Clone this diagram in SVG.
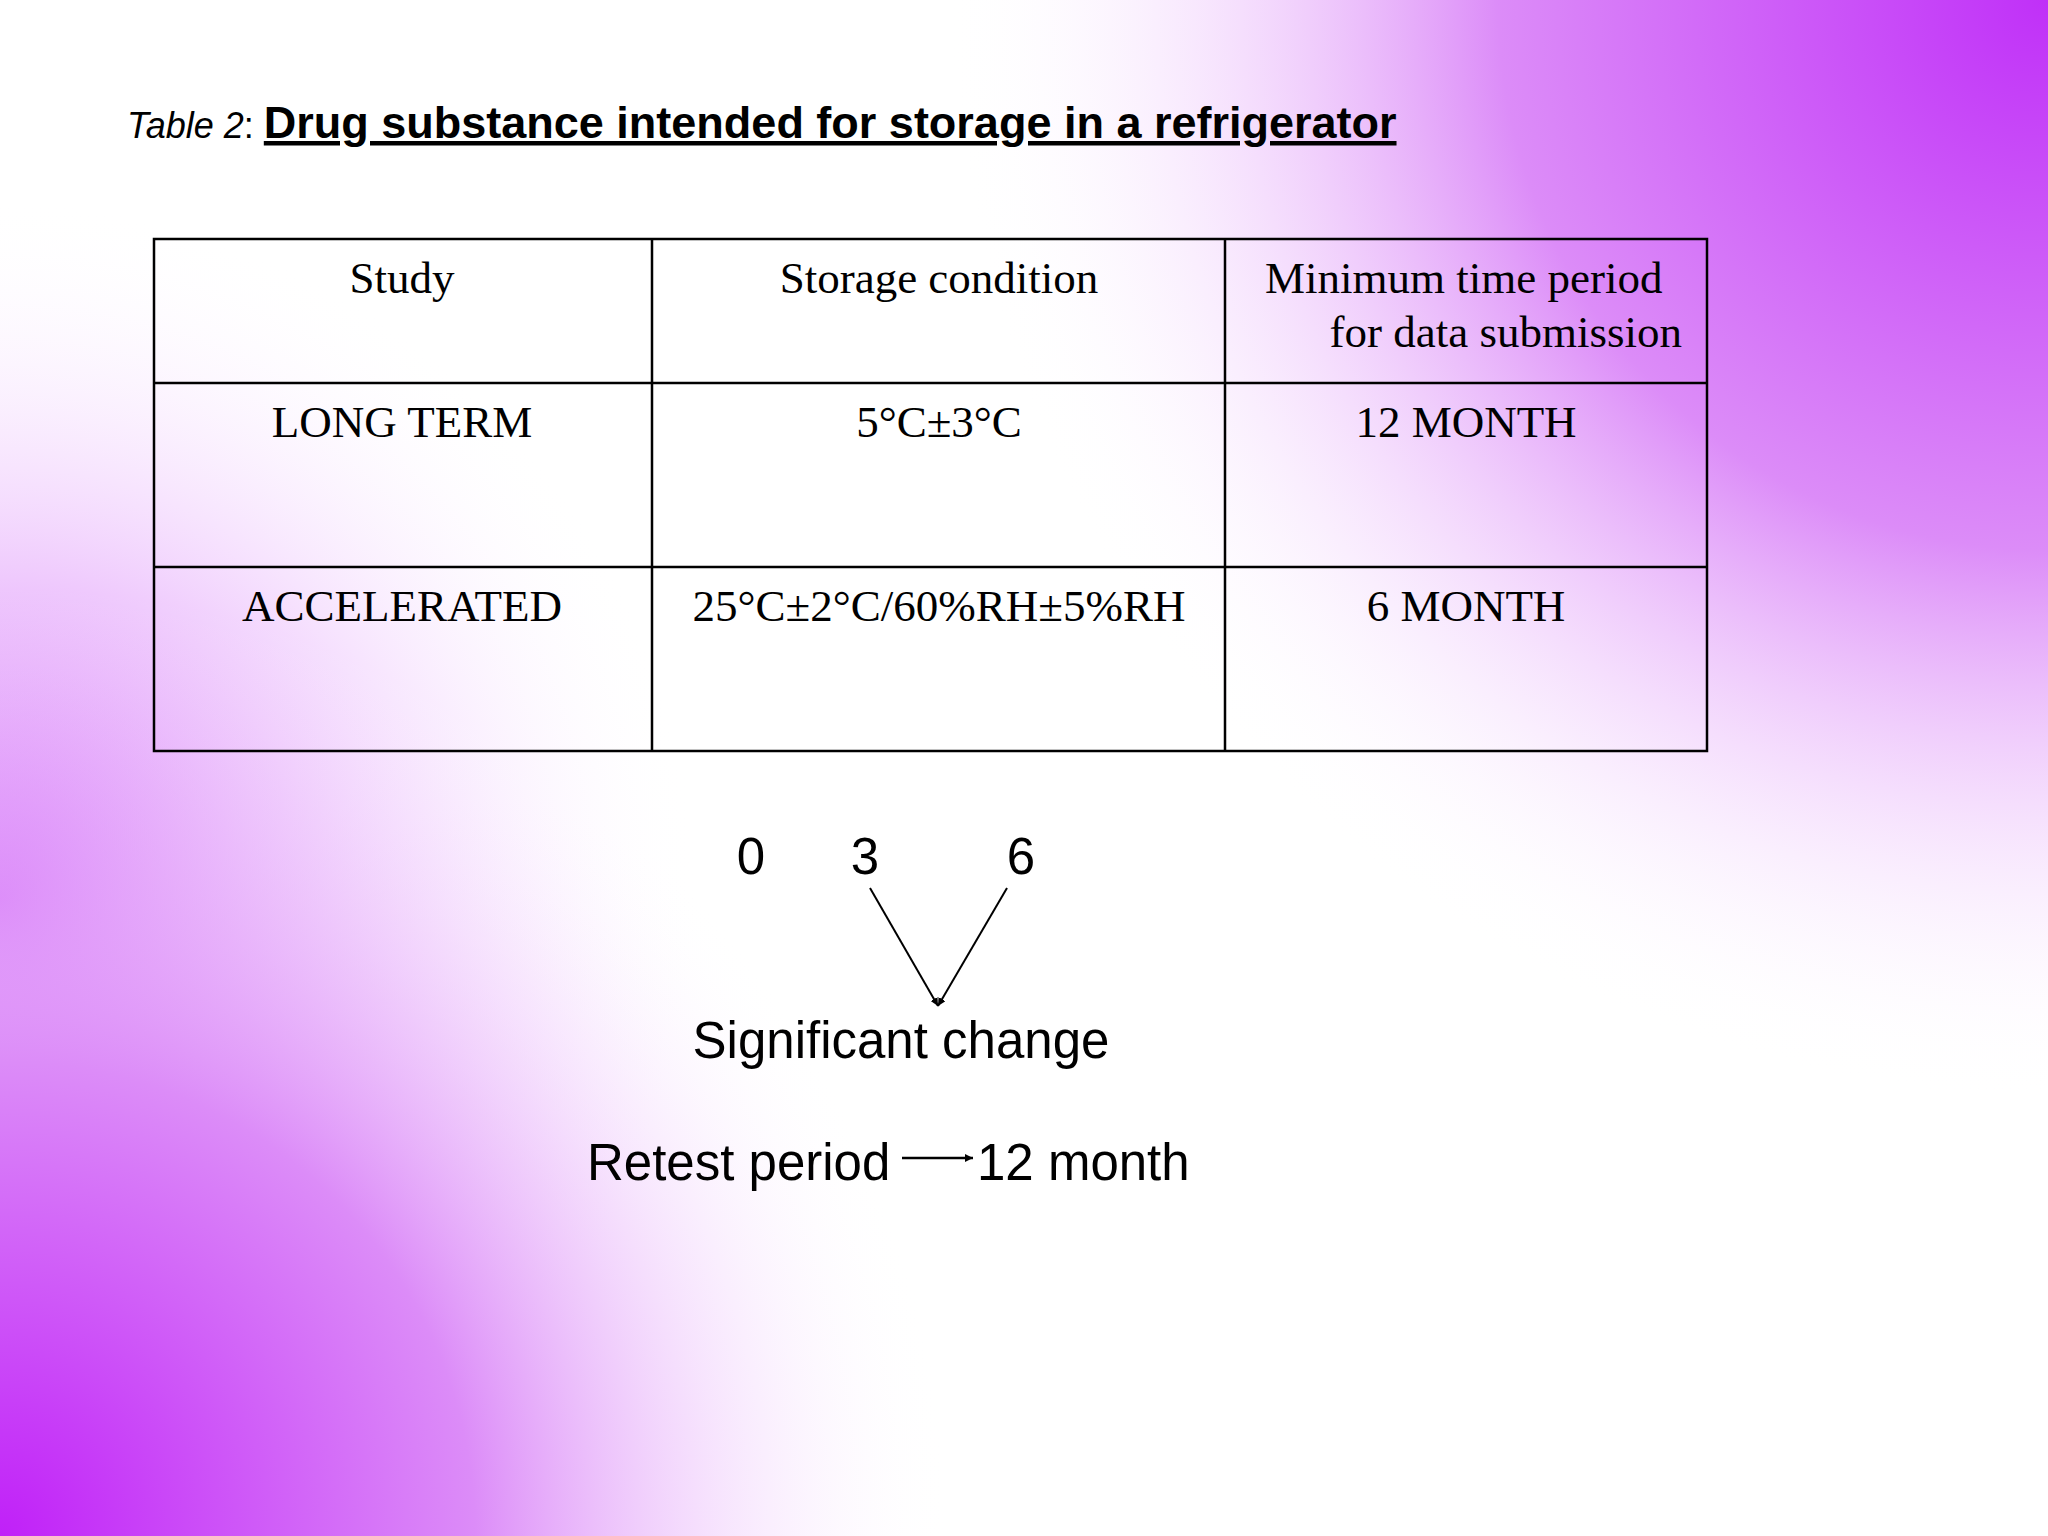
<svg xmlns="http://www.w3.org/2000/svg" width="2048" height="1536" viewBox="0 0 2048 1536">
<defs>
<radialGradient id="tr" cx="2048" cy="0" r="1100" gradientUnits="userSpaceOnUse"><stop offset="0" stop-color="#c030f8"/><stop offset="0.5" stop-color="#dc8cf8"/><stop offset="1" stop-color="#ffffff" stop-opacity="0"/></radialGradient>
<radialGradient id="bl" cx="0" cy="1536" r="950" gradientUnits="userSpaceOnUse"><stop offset="0" stop-color="#c020f8"/><stop offset="0.5" stop-color="#dc8cf8"/><stop offset="1" stop-color="#ffffff" stop-opacity="0"/></radialGradient>
<radialGradient id="ml" cx="0" cy="900" r="700" gradientUnits="userSpaceOnUse"><stop offset="0" stop-color="#c848f8"/><stop offset="1" stop-color="#ffffff" stop-opacity="0"/></radialGradient>
<marker id="ah" viewBox="0 0 10 10" refX="10" refY="5" markerWidth="8" markerHeight="8" orient="auto" markerUnits="userSpaceOnUse"><path d="M0,0 L10,5 L0,10 z" fill="#000"/></marker>
<style>
.t{font-family:"Liberation Serif",serif;font-size:45px;fill:#000}
.a{font-family:"Liberation Sans",sans-serif;font-size:51px;fill:#000}
.ln{stroke:#000;stroke-width:2.5;fill:none}
</style>
</defs>
<rect width="2048" height="1536" fill="#fff"/>
<rect width="2048" height="1536" fill="url(#ml)"/>
<rect width="2048" height="1536" fill="url(#bl)"/>
<rect width="2048" height="1536" fill="url(#tr)"/>
<text x="127" y="138" font-family="Liberation Sans,sans-serif" font-size="36" fill="#000"><tspan font-style="italic">Table 2</tspan>: <tspan font-weight="bold" font-size="45" text-decoration="underline">Drug substance intended for storage in a refrigerator</tspan></text>
<g id="table">
<rect x="154" y="239" width="1553" height="512" class="ln"/>
<line x1="154" y1="383" x2="1707" y2="383" class="ln"/>
<line x1="154" y1="567" x2="1707" y2="567" class="ln"/>
<line x1="652" y1="239" x2="652" y2="751" class="ln"/>
<line x1="1225" y1="239" x2="1225" y2="751" class="ln"/>
<g text-anchor="middle" class="t">
<text x="402" y="293" class="t">Study</text>
<text x="939" y="293" class="t">Storage condition</text>
<text x="402" y="437" class="t">LONG TERM</text>
<text x="939" y="437" class="t">5°C±3°C</text>
<text x="1466" y="437" class="t">12 MONTH</text>
<text x="402" y="621" class="t">ACCELERATED</text>
<text x="939" y="621" class="t">25°C±2°C/60%RH±5%RH</text>
<text x="1466" y="621" class="t">6 MONTH</text>
</g>
<text x="1265" y="293" class="t">Minimum time period</text>
<text x="1682" y="347" class="t" text-anchor="end">for data submission</text>
</g>
<g id="timeline" text-anchor="middle">
<text x="751" y="874" class="a">0</text>
<text x="865" y="874" class="a">3</text>
<text x="1021" y="874" class="a">6</text>
<text x="901" y="1058" class="a">Significant change</text>
</g>
<g id="connectors">
<line x1="870" y1="888" x2="938" y2="1006" stroke="#000" stroke-width="2" marker-end="url(#ah)"/>
<line x1="1007" y1="888" x2="938" y2="1006" stroke="#000" stroke-width="2" marker-end="url(#ah)"/>
<line x1="902" y1="1158" x2="973" y2="1158" stroke="#000" stroke-width="2.5" marker-end="url(#ah)"/>
</g>
<g id="retest">
<text x="587" y="1180" class="a">Retest period</text>
<text x="977" y="1180" class="a">12 month</text>
</g>
</svg>
